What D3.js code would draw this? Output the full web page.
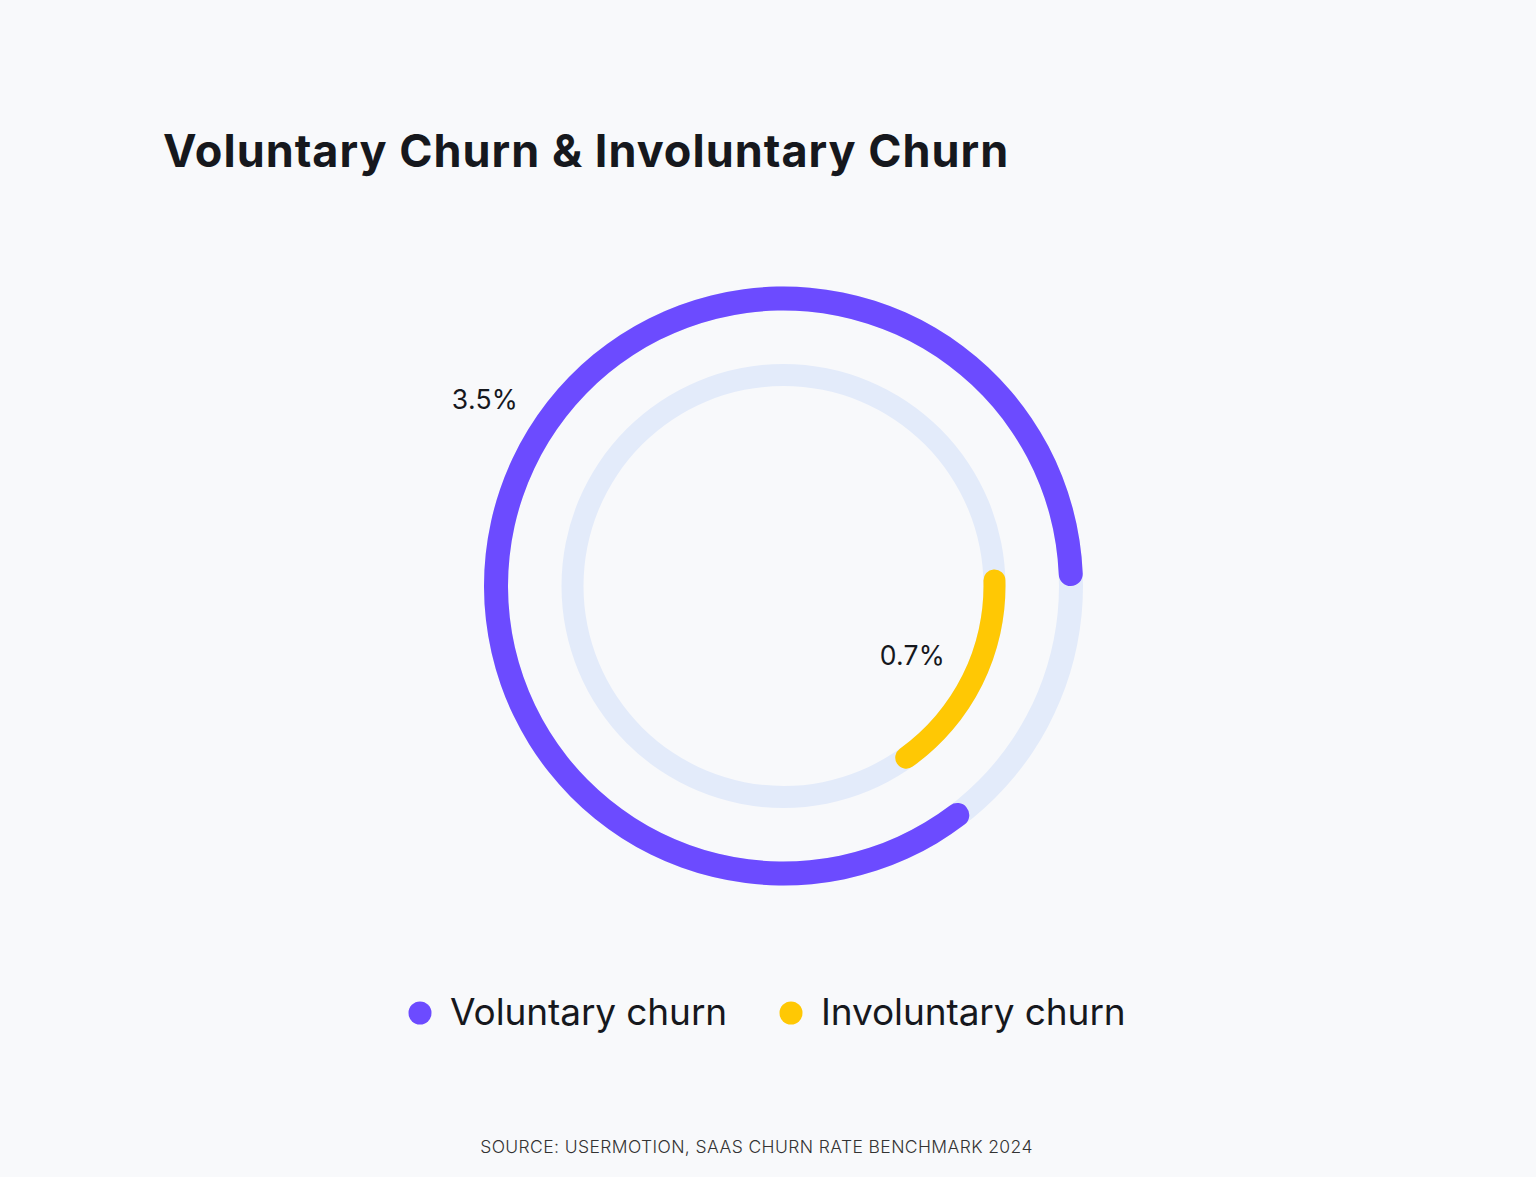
<!DOCTYPE html>
<html>
<head>
<meta charset="utf-8">
<script src="https://cdn.jsdelivr.net/npm/d3@7"></script>
<style>
  html, body { margin: 0; padding: 0; background: #f8f9fb; }
  #chart { width: 1536px; height: 1177px; }
  text { font-family: Inter, "Noto Sans", sans-serif; fill: #16181d; }
</style>
</head>
<body>
<div id="chart"></div>
<script>
// data
const categories = ["Voluntary churn", "Involuntary churn"];
const values = [3.5, 0.7];
const valueLabels = ["3.5%", "0.7%"];
const colors = ["#6c4bff", "#ffc804"];
const scaleMax = 4.07; // value that would close a full ring

const width = 1536;
const height = 1177;
const cx = 783.5, cy = 586;

const svg = d3.select("#chart")
    .append("svg")
    .attr("width", width)
    .attr("height", height);

svg.append("rect")
    .attr("width", width)
    .attr("height", height)
    .attr("fill", "#f8f9fb");

// title
svg.append("text")
    .attr("x", 163)
    .attr("y", 167)
    .attr("font-size", 45)
    .attr("font-weight", 700)
    .attr("letter-spacing", 1)
    .text("Voluntary Churn & Involuntary Churn");

const g = svg.append("g")
    .attr("transform", `translate(${cx},${cy})`);

const angle = d3.scaleLinear()
    .domain([0, scaleMax])
    .range([0, 2 * Math.PI]);

const deg = d => d * Math.PI / 180;

// ring geometry: outer ring for voluntary, inner ring for involuntary
const rings = [
    { inner: 275.5, outer: 299.5, anchor: deg(450), dir: -1, labelR: 352, labelA: deg(302) },
    { inner: 200, outer: 222, anchor: deg(85.5), dir: 1, labelR: 146, labelA: deg(118) }
];

// background tracks
g.selectAll("path.track")
    .data(rings)
    .enter()
    .append("path")
    .attr("class", "track")
    .attr("d", d => d3.arc()
        .innerRadius(d.inner)
        .outerRadius(d.outer)
        .startAngle(0)
        .endAngle(2 * Math.PI)())
    .attr("fill", "#e3ebfa");

// value arcs
g.selectAll("path.bar")
    .data(values)
    .enter()
    .append("path")
    .attr("class", "bar")
    .attr("d", (v, i) => {
        const r = rings[i];
        const a0 = r.anchor;
        const a1 = r.anchor + r.dir * angle(v);
        return d3.arc()
            .innerRadius(r.inner)
            .outerRadius(r.outer)
            .cornerRadius((r.outer - r.inner) / 2)
            .startAngle(Math.min(a0, a1))
            .endAngle(Math.max(a0, a1))();
    })
    .attr("fill", (v, i) => colors[i]);

// value labels
g.selectAll("text.value")
    .data(valueLabels)
    .enter()
    .append("text")
    .attr("class", "value")
    .attr("x", (d, i) => rings[i].labelR * Math.sin(rings[i].labelA))
    .attr("y", (d, i) => -rings[i].labelR * Math.cos(rings[i].labelA))
    .attr("text-anchor", "middle")
    .attr("dominant-baseline", "central")
    .attr("font-size", 26.5)
    .attr("font-weight", 400)
    .attr("letter-spacing", 0.3)
    .text(d => d);

// legend
const legendX = [420, 791];
const legend = svg.selectAll("g.legend")
    .data(categories)
    .enter()
    .append("g")
    .attr("class", "legend")
    .attr("transform", (d, i) => `translate(${legendX[i]},1013)`);

legend.append("circle")
    .attr("r", 11.5)
    .attr("fill", (d, i) => colors[i]);

legend.append("text")
    .attr("x", 30)
    .attr("y", 12)
    .attr("font-size", 37)
    .attr("font-weight", 400)
    .attr("letter-spacing", -0.1)
    .text(d => d);

// source note
svg.append("text")
    .attr("x", 756.5)
    .attr("y", 1153)
    .attr("text-anchor", "middle")
    .attr("font-size", 17.5)
    .attr("font-weight", 300)
    .attr("letter-spacing", 0.4)
    .style("fill", "#333")
    .text("SOURCE: USERMOTION, SAAS CHURN RATE BENCHMARK 2024");
</script>
</body>
</html>
